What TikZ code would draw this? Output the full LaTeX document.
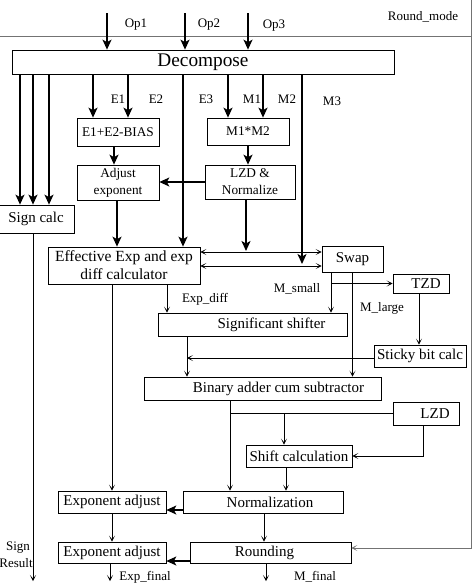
\documentclass[tikz,border=0pt]{standalone}
\usepackage{fontspec}
\setmainfont{Liberation Serif}
\usetikzlibrary{arrows.meta}

\begin{document}
\begin{tikzpicture}[x=1pt,y=-1pt,
        >={Stealth[length=6pt,width=6pt,inset=3.5pt]},
        blk/.style={draw,line width=0.7pt,inner sep=0pt,align=center,font=\fontsize{15}{18}\selectfont},
        sml/.style={blk,font=\fontsize{13.3}{17}\selectfont},
        lbl/.style={anchor=base,inner sep=0pt,font=\fontsize{13}{15}\selectfont},
        thk/.style={line width=1.4pt,-{Stealth[length=10pt,width=9pt,inset=2.5pt]}},
        thn/.style={line width=0.7pt,->},
        bus/.style={line width=1pt,draw=black!55}]
    \useasboundingbox (0,0) rectangle (474,584);

    % boxes, centre in px from the top left corner
    \node[blk,minimum width=382,minimum height=24,font=\fontsize{19.3}{22}\selectfont] (dec) at (203,62) {Decompose};
    \node[sml,minimum width=82,minimum height=28] (sum)  at (118,132)   {E1+E2-BIAS};
    \node[sml,minimum width=82,minimum height=27] (mul)  at (248,131.5) {M1*M2};
    \node[sml,minimum width=82,minimum height=35] (adj)  at (118,182.5) {Adjust\\exponent};
    \node[sml,minimum width=90,minimum height=34] (lzdn) at (250,182)   {LZD \&\\Normalize};
    \node[blk,minimum width=76,minimum height=28] (sgn)  at (36,219)    {Sign calc};
    \node[blk,minimum width=152,minimum height=37,font=\fontsize{15.5}{18}\selectfont] (eff) at (124,265.5) {Effective Exp and exp\\diff calculator};
    \node[blk,minimum width=61,minimum height=26]  (swap) at (352.5,259) {Swap};
    \node[blk,minimum width=56,minimum height=19]  (tzd)  at (421,283.5) {\hspace*{10pt}TZD};
    \node[blk,minimum width=189,minimum height=23] (sig)  at (252.5,324.5) {\hspace*{38pt}Significant shifter};
    \node[blk,minimum width=92,minimum height=22]  (stk)  at (420,356)   {Sticky bit calc};
    \node[blk,minimum width=237,minimum height=23] (add)  at (262.5,388.5) {\hspace*{32pt}Binary adder cum subtractor};
    \node[blk,minimum width=66,minimum height=23]  (lzd)  at (426,413.5) {\hspace*{18pt}LZD};
    \node[blk,minimum width=106,minimum height=22] (shf)  at (299,456)   {Shift calculation};
    \node[blk,minimum width=160,minimum height=22] (nrm)  at (263,502)   {\hspace*{14pt}Normalization};
    \node[blk,minimum width=108,minimum height=22] (ea1)  at (112,502)   {Exponent adjust};
    \node[blk,minimum width=108,minimum height=21] (ea2)  at (112,552.5) {Exponent adjust};
    \node[blk,minimum width=161,minimum height=21] (rnd)  at (270.5,552.5) {Rounding\hspace*{12pt}};

    % inputs
    \draw[bus] (0,36) -- (471,36);
    \foreach \n/\x in {opa/107,opb/185,opc/248}
        {\coordinate (\n) at (\x,13);
         \draw[thk] (\n) -- (\n |- dec.north);}
    \coordinate (rm) at (471,0);
    \draw[bus,thn] (rm) |- (rnd.east |- 0,548);

    % decompose outputs
    \foreach \x in {20,33,49}
        {\draw[thk] (dec.south -| \x,0) -- (sgn.north -| \x,0);}
    \foreach \x in {93,128}
        {\draw[thk] (dec.south -| \x,0) -- (sum.north -| \x,0);}
    \foreach \x in {228,263}
        {\draw[thk] (dec.south -| \x,0) -- (mul.north -| \x,0);}
    \draw[thk] (dec.south -| 183,0) -- (eff.north -| 183,0);
    \coordinate (mth) at (302,264);
    \draw[thk] (dec.south -| mth) -- (mth);

    % exponent / product path
    \draw[thk] (sum.south -| 114,0) -- (adj.north -| 114,0);
    \draw[thk] (mul.south) -- (lzdn.north -| mul.south);
    \draw[thk] (lzdn.west) -- (adj.east |- lzdn.west);
    \draw[thk] (adj.south -| 117,0) -- (eff.north -| 117,0);
    \coordinate (lzo) at (246,251);
    \draw[thk] (lzdn.south -| lzo) -- (lzo);
    \foreach \y in {252,266}
        {\draw[line width=0.9pt,<->] (eff.east |- 0,\y) -- (swap.west |- 0,\y);}

    % alignment
    \draw[thn] (swap.south -| 331,0) -- (sig.north -| 331,0);
    \draw[thn] (swap.south -| 331,0) |- (tzd.west);
    \draw[thn] (swap.south) -- (add.north -| swap.south);
    \draw[thn] (tzd.south -| 419,0) -- (stk.north -| 419,0);
    \draw[thn] (stk.west |- 0,358) -- (187,358);
    \draw[thn] (eff.south -| 167,0) -- (sig.north -| 167,0);
    \draw[thn] (eff.south -| 112,0) -- (ea1.north -| 112,0);
    \draw[thn] (sig.south -| 187,0) -- (add.north -| 187,0);

    % normalise and round
    \draw[line width=0.7pt] (add.south -| 230,0) |- (lzd.west);
    \draw[thn] (add.south -| 230,0) -- (nrm.north -| 230,0);
    \draw[thn] (lzd.west -| 284,0) -- (shf.north -| 284,0);
    \draw[thn] (lzd.south -| 423,0) |- (shf.east);
    \draw[thn] (shf.south -| 286,0) -- (nrm.north -| 286,0);
    \draw[thk] (nrm.west |- 0,510) -- (ea1.east |- 0,510);
    \draw[thn] (ea1.south) -- (ea2.north);
    \draw[thn] (nrm.south -| 264,0) -- (rnd.north -| 264,0);
    \draw[thk] (rnd.west |- 0,561) -- (ea2.east |- 0,561);

    % outputs
    \coordinate (sres) at (33,581);
    \coordinate (efin) at (110,581);
    \coordinate (mfin) at (266,581);
    \draw[thn] (sgn.south -| sres) -- (sres);
    \draw[thn] (ea2.south -| efin) -- (efin);
    \draw[thn] (rnd.south -| mfin) -- (mfin);

    % labels
    \node[lbl] (lopa) at (136,27) {Op1};
    \node[lbl] (lopb) at (209,27) {Op2};
    \node[lbl] (lopc) at (274,28) {Op3};
    \node[lbl] (lrm)  at (423,20) {Round\_mode};
    \node[lbl] (lea)  at (118,103) {E1};
    \node[lbl] (leb)  at (156,103) {E2};
    \node[lbl] (lec)  at (206,103) {E3};
    \node[lbl] (lma)  at (252,103) {M1};
    \node[lbl] (lmb)  at (287,103) {M2};
    \node[lbl] (lmc)  at (332,105) {M3};
    \node[lbl] (ldf)  at (205,302) {Exp\_diff};
    \node[lbl] (lms)  at (297,292) {M\_small};
    \node[lbl] (lml)  at (382,311) {M\_large};
    \node[lbl] (lsg)  at (18,550)  {Sign};
    \node[lbl] (lsr)  at (16,567)  {Result};
    \node[lbl] (lef)  at (145,580) {Exp\_final};
    \node[lbl] (lmf)  at (315,580) {M\_final};
\end{tikzpicture}
\end{document}
